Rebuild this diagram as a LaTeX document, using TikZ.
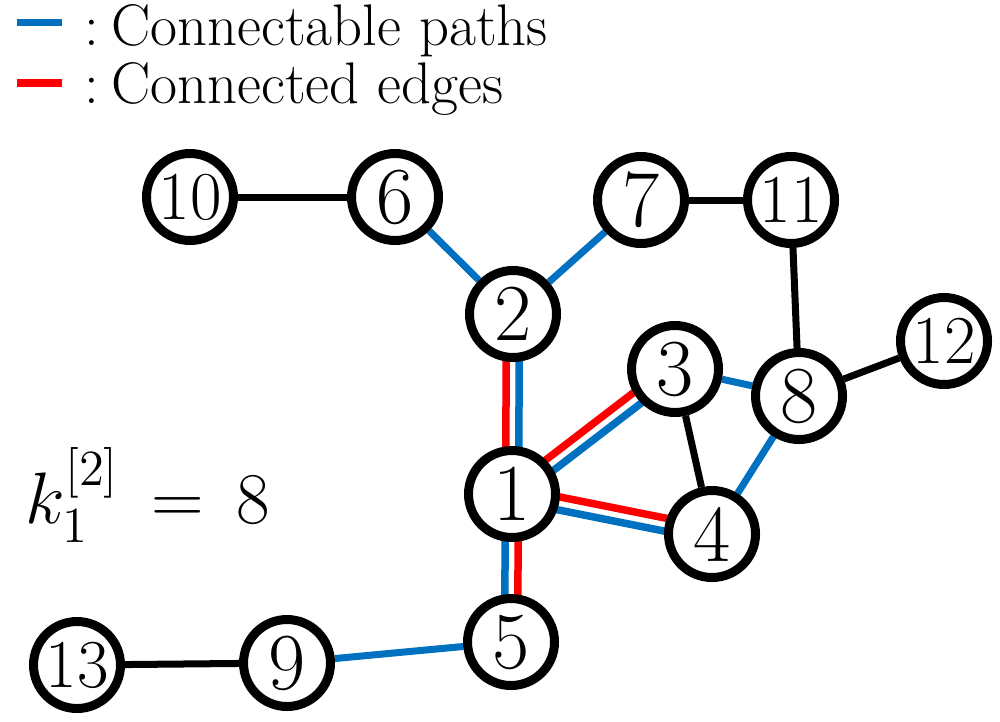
\documentclass[tikz,border=0pt]{standalone}
\usepackage{amsmath}
\usepackage{tikz}
\usetikzlibrary{calc}
\usetikzlibrary{backgrounds}
\usepackage{color}
\definecolor{PathBlue}{RGB}{0,112,192}
\definecolor{EdgeRed}{RGB}{255,0,0}

% red on the left, blue on the right, seen from #1 towards #2
\newcommand{\twoline}[2]{%
    \draw[ce] ($(#1)!0.065cm!90:(#2)$) -- ($(#2)!0.065cm!-90:(#1)$);
    \draw[cp, line width=0.075cm] ($(#1)!0.065cm!-90:(#2)$) -- ($(#2)!0.065cm!90:(#1)$);
}

\begin{document}
\begin{tikzpicture}
    \path[use as bounding box] (0.0, 0.0) rectangle (10.0, 7.21);

    \tikzset{ vtx/.style ={draw, circle, line width=0.09cm, fill=white, minimum size=0.87cm, inner sep=0pt, font=\fontsize{23}{23}\selectfont} }
    \tikzset{ vtxw/.style ={vtx, font=\fontsize{19.5}{19.5}\selectfont} }
    \tikzset{ ed/.style ={draw, line width=0.07cm} }
    \tikzset{ cp/.style ={draw=PathBlue, line width=0.07cm} }
    \tikzset{ ce/.style ={draw=EdgeRed, line width=0.075cm} }
    \tikzset{ lgtext/.style ={anchor=base west, inner sep=0pt, font=\fontsize{16.7}{16.7}\selectfont} }

    % legend
    \draw[cp] (0.17, 6.98) -- (0.62, 6.98);
    \draw[ce, line width=0.07cm] (0.17, 6.38) -- (0.62, 6.38);
    \node[lgtext] (lgpath) at (0.84, 6.76) {:\hspace{0.12cm}Connectable paths};
    \node[lgtext] (lgedge) at (0.84, 6.18) {:\hspace{0.12cm}Connected edges};

    \node[font=\fontsize{20}{20}\selectfont] (kval) at (1.48, 2.26) {$k_1^{[2]} \,=\, 8$};

    \node[vtxw] (v10) at (1.90, 5.24) {10};
    \node[vtx]  (v6)  at (3.95, 5.24) {6};
    \node[vtx]  (v7)  at (6.41, 5.21) {7};
    \node[vtxw] (v11) at (7.91, 5.21) {11};
    \node[vtx]  (v2)  at (5.13, 4.07) {2};
    \node[vtx]  (v3)  at (6.75, 3.52) {3};
    \node[vtx]  (v8)  at (7.99, 3.25) {8};
    \node[vtxw] (v12) at (9.44, 3.80) {12};
    \node[vtx]  (v1)  at (5.12, 2.27) {1};
    \node[vtx]  (v4)  at (7.12, 1.87) {4};
    \node[vtx]  (v5)  at (5.11, 0.79) {5};
    \node[vtx]  (v9)  at (2.87, 0.58) {9};
    \node[vtxw] (v13) at (0.77, 0.56) {13};

    \begin{scope}[on background layer]
    \draw[ed] (v10) -- (v6);
    \draw[ed] (v7) -- (v11);
    \draw[ed] (v11) -- (v8);
    \draw[ed] (v8) -- (v12);
    \draw[ed] (v13) -- (v9);
    \draw[ed] (v3) -- (v4);

    \draw[cp] (v6) -- (v2);
    \draw[cp] (v7) -- (v2);
    \draw[cp] (v3) -- (v8);
    \draw[cp] (v8) -- (v4);
    \draw[cp] (v9) -- (v5);

    \twoline{v1}{v2}
    \twoline{v1}{v3}
    \twoline{v1}{v4}
    \twoline{v1}{v5}
    \end{scope}

\end{tikzpicture}
\end{document}
